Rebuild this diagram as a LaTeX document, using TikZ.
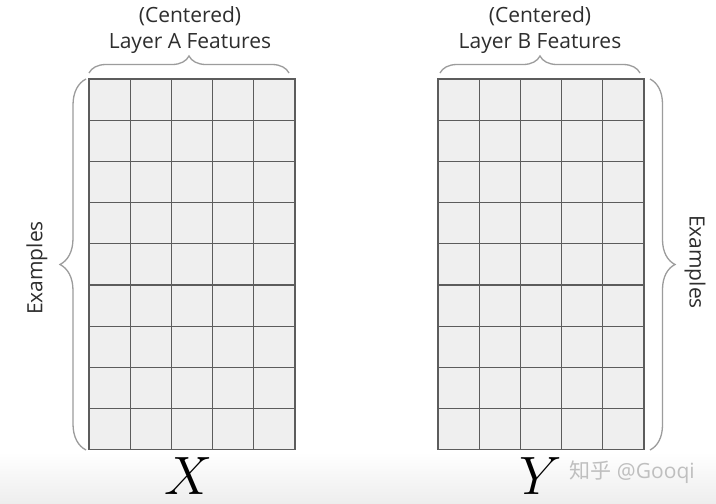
\documentclass[tikz,border=0pt]{standalone}
\usepackage{fontspec}
\setmainfont{Open Sans}
\newfontfamily\cjkfont{Noto Sans CJK SC}
\usetikzlibrary{decorations.pathreplacing}
\definecolor{cellfill}{HTML}{EFEFEF}
\definecolor{cellline}{HTML}{5C5C5C}
\definecolor{bracecol}{HTML}{9C9C9C}
\definecolor{labelcol}{HTML}{2E2E2E}
\newcommand{\cellsize}{41.2}
\tikzset{cell/.style = {draw=cellline, fill=cellfill, line width=1.3pt}}
\tikzset{curly/.style = {draw=bracecol, line width=1.3pt, decorate, decoration={brace, amplitude=#1}}}
\tikzset{caption/.style = {text=labelcol, font=\fontsize{21}{26}\selectfont}}
\tikzset{varname/.style = {font=\Huge, scale=2.17}}

\begin{document}
\begin{tikzpicture}[x=1pt, y=-1pt]
                \useasboundingbox (0,0) rectangle (716,504);
                \fill[white] (0,0) rectangle (716,504);
                \shade[top color=white, bottom color=black!7] (0,452) rectangle (716,504);
                \foreach \gx in {89,438} {
                    \filldraw[cell] (\gx,79) rectangle ++(5*\cellsize,9*\cellsize);
                    \foreach \c in {1,...,4}
                        \draw[cellline, line width=1.3pt] (\gx+\c*\cellsize,79) -- ++(0,9*\cellsize);
                    \foreach \r in {1,...,8}
                        \draw[cellline, line width=1.3pt] (\gx,79+\r*\cellsize) -- ++(5*\cellsize,0);
                }
                \node[caption, anchor=base] (centA) at (190,22) {(Centered)};
                \node[caption, anchor=base] (featA) at (190,48) {Layer A Features};
                \draw[curly=17pt] (89,73) -- (289,73);
                \node[caption, anchor=base] (centB) at (540,22) {(Centered)};
                \node[caption, anchor=base] (featB) at (540,48) {Layer B Features};
                \draw[curly=17pt] (440,73) -- (640,73);
                \draw[curly=26pt] (86,450) -- (86,79);
                \node[caption, rotate=90] (exA) at (37,268) {Examples};
                \draw[curly=25pt] (650,79) -- (650,450);
                \node[caption, rotate=-90] (exB) at (695,262) {Examples};
                \node[varname] (matX) at (189,476) {$X$};
                \node[varname] (matY) at (541,476) {$Y$};
                \node[text=black!25, font=\fontsize{21}{26}\selectfont, anchor=west] (mark) at (566,472) {{\cjkfont 知乎} @Gooqi};
            \end{tikzpicture}
\end{document}
